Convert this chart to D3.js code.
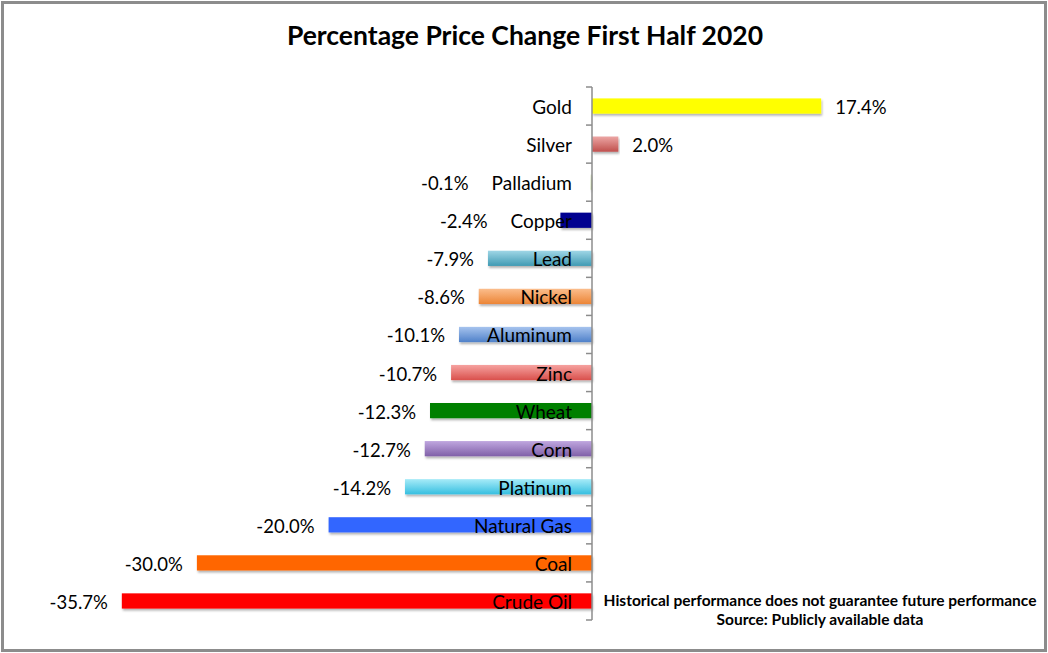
<!DOCTYPE html>
<html>
<head>
<meta charset="utf-8">
<script src="https://cdn.jsdelivr.net/npm/d3@7"></script>
<style>
  body { margin: 0; background: #fff; }
  svg { display: block; font-family: Lato, "Open Sans", sans-serif; }
</style>
</head>
<body>
<svg id="chart"></svg>
<script>
// commodities, top to bottom
var commodities = ["Gold", "Silver", "Palladium", "Copper", "Lead", "Nickel", "Aluminum",
                   "Zinc", "Wheat", "Corn", "Platinum", "Natural Gas", "Coal", "Crude Oil"];
var changes = [17.4, 2.0, -0.1, -2.4, -7.9, -8.6, -10.1, -10.7, -12.3, -12.7, -14.2, -20.0, -30.0, -35.7];
// [top colour, bottom colour] - same twice means a flat fill
var barColors = [
  ["#ffff00", "#ffff00"],
  ["#eca6a4", "#c0504d"],
  ["#d7e4bd", "#b9cf8a"],
  ["#000090", "#000090"],
  ["#9fd6e6", "#3f9ab3"],
  ["#fbbd8c", "#ec8536"],
  ["#a6c3ee", "#4f81c9"],
  ["#f6a2a0", "#d9504c"],
  ["#008000", "#008000"],
  ["#bfa6df", "#8060a8"],
  ["#a6ebf8", "#36bfe0"],
  ["#3366ff", "#3366ff"],
  ["#ff6600", "#ff6600"],
  ["#ff0000", "#ff0000"]
];
var title = "Percentage Price Change First Half 2020";
var notes = ["Historical performance does not guarantee future performance", "Source: Publicly available data"];

var width = 1048, height = 653;
var svg = d3.select("#chart").attr("width", width).attr("height", height);

// frame
svg.append("rect")
    .attr("x", 2.5).attr("y", 2.5)
    .attr("width", width - 5).attr("height", height - 5)
    .attr("fill", "#fff")
    .attr("stroke", "#8c8c8c")
    .attr("stroke-width", 3);

var defs = svg.append("defs");
var shadow = defs.append("filter").attr("id", "shadow")
    .attr("x", "-5%").attr("y", "-30%").attr("width", "110%").attr("height", "180%");
shadow.append("feDropShadow")
    .attr("dx", 1).attr("dy", 2).attr("stdDeviation", 1.2)
    .attr("flood-color", "#000").attr("flood-opacity", 0.3);

barColors.forEach(function(c, i) {
  var g = defs.append("linearGradient").attr("id", "grad" + i)
      .attr("x1", 0).attr("y1", 0).attr("x2", 0).attr("y2", 1);
  g.append("stop").attr("offset", "0%").attr("stop-color", c[0]);
  g.append("stop").attr("offset", "100%").attr("stop-color", c[1]);
});

var x = d3.scaleLinear().domain([-40, 20]).range([592 - 40 * 13.17, 592 + 20 * 13.17]);
var y = d3.scaleBand().domain(commodities).range([87, 620]).paddingInner(0.6).paddingOuter(0.3);

svg.append("text")
    .attr("x", 525).attr("y", 45)
    .attr("text-anchor", "middle")
    .attr("font-size", 26.5).attr("font-weight", "bold")
    .text(title);

var data = commodities.map(function(d, i) { return { name: d, value: changes[i], idx: i }; });

svg.append("g").selectAll("rect")
    .data(data)
    .join("rect")
    .attr("x", d => x(Math.min(0, d.value)))
    .attr("y", d => y(d.name))
    .attr("width", d => Math.abs(x(d.value) - x(0)))
    .attr("height", y.bandwidth())
    .attr("fill", d => "url(#grad" + d.idx + ")")
    .attr("filter", "url(#shadow)");

// vertical axis with ticks between categories
var axis = svg.append("g").attr("stroke", "#8c8c8c").attr("stroke-width", 1.5);
axis.append("line")
    .attr("x1", x(0)).attr("x2", x(0))
    .attr("y1", 87).attr("y2", 620);
var edges = d3.range(commodities.length + 1).map(i => 87 + i * (533 / commodities.length));
axis.selectAll("line.tick")
    .data(edges)
    .join("line")
    .attr("class", "tick")
    .attr("x1", x(0) - 6).attr("x2", x(0))
    .attr("y1", d => d).attr("y2", d => d);

var labelY = d => y(d.name) + y.bandwidth() / 2 + 8;

var catLabels = svg.append("g").selectAll("text")
    .data(data)
    .join("text")
    .attr("x", x(0) - 20)
    .attr("y", labelY)
    .attr("text-anchor", "end")
    .attr("font-size", 19)
    .text(d => d.name);

// left edge of each category label, so short negative bars push their value out of the way
var labelLeft = {};
catLabels.each(function(d) { labelLeft[d.name] = x(0) - 20 - this.getComputedTextLength(); });

var fmt = d3.formatLocale({ decimal: ".", thousands: ",", grouping: [3], currency: ["$", ""], minus: "-" }).format(".1f");
svg.append("g").selectAll("text")
    .data(data)
    .join("text")
    .attr("x", d => d.value >= 0 ? x(d.value) + 14 : Math.min(x(d.value) - 14, labelLeft[d.name] - 23))
    .attr("y", labelY)
    .attr("text-anchor", d => d.value >= 0 ? "start" : "end")
    .attr("font-size", 18.5)
    .text(d => fmt(d.value) + "%");

svg.append("g").selectAll("text")
    .data(notes)
    .join("text")
    .attr("x", 820)
    .attr("y", (d, i) => 606 + i * 19)
    .attr("text-anchor", "middle")
    .attr("font-size", 15.5).attr("font-weight", "bold")
    .text(d => d);
</script>
</body>
</html>
